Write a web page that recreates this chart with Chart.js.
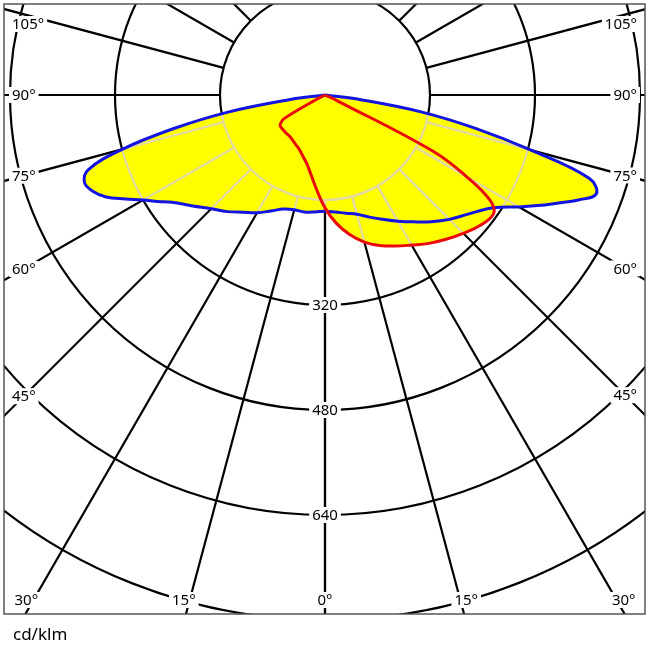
<!DOCTYPE html>
<html>
<head>
<meta charset="utf-8">
<style>
  body { margin: 0; background: #fff; }
  #wrap { position: relative; width: 650px; height: 650px; }
  #unit { position: absolute; left: 13px; top: 625px; font: 17px "Noto Sans", sans-serif; line-height: 17px; color: #000; }
</style>
<script src="https://cdn.jsdelivr.net/npm/chart.js@4.4.0/dist/chart.umd.min.js"></script>
</head>
<body>
<div id="wrap">
  <canvas id="polar" width="650" height="650"></canvas>
  <div id="unit">cd/klm</div>
</div>
<script>
// gamma angles (deg) of the measured intensities
const gammas = [0, 5, 10, 15, 20, 25, 30, 35, 40, 45, 50, 55, 57.5, 60, 62.5, 65, 67.5, 70, 72.5, 75, 77.5, 80, 82.5, 85, 90];
// C0 / C180 plane, cd/klm (blue)
const c0   = [177, 179, 183, 188, 198, 209, 222, 236, 252, 268, 283, 302, 318, 341, 365, 390, 418, 440, 422, 325, 235, 150, 55, 0, 0];
const c180 = [177, 179, 181, 181, 185, 195, 207, 218, 232, 245, 263, 285, 302, 320, 343, 368, 383, 390, 378, 320, 236, 150, 55, 0, 0];
// C90 / C270 plane, cd/klm (red)
const c90  = [172, 196, 216, 232, 244, 254, 264, 276, 287, 298, 309, 314, 298, 250, 185, 20, 0, 0, 0, 0, 0, 0, 0, 0, 0];
const c270 = [172, 145, 123, 108, 99, 92, 88, 85, 83, 83, 83, 83, 80, 72, 15, 0, 0, 0, 0, 0, 0, 0, 0, 0, 0];

// grid
const rings = [160, 320, 480, 640, 800, 960];
const ringLabels = [320, 480, 640];
const spokeStep = 15;
const sideLabels = [45, 60, 75, 90, 105];
const bottomLabels = [0, 15, 30];

// geometry (pixels)
const FRAME = { left: 4, top: 4, right: 645, bottom: 614 };
const CENTER = { x: 325, y: 95 };
const K = 105 / 160; // px per cd/klm

function toXY(g, v, side) {
  const a = g * Math.PI / 180;
  return { x: side * v * Math.sin(a), y: -v * Math.cos(a) };
}

// left half runs 90 -> 0, right half 0 -> 90
function curve(left, right) {
  const pts = [];
  for (let i = gammas.length - 1; i >= 0; i--) pts.push(toXY(gammas[i], left[i], -1));
  for (let i = 1; i < gammas.length; i++) pts.push(toXY(gammas[i], right[i], 1));
  return pts;
}

function drawGrid(chart, color) {
  const { ctx, chartArea: a, scales: { x, y } } = chart;
  const cx = x.getPixelForValue(0), cy = y.getPixelForValue(0);
  const k = x.getPixelForValue(1) - cx;
  ctx.save();
  ctx.beginPath();
  ctx.rect(a.left, a.top, a.right - a.left, a.bottom - a.top);
  ctx.clip();
  ctx.strokeStyle = color;
  ctx.lineWidth = 2.2;
  rings.forEach(r => {
    ctx.beginPath();
    ctx.arc(cx, cy, r * k, 0, 2 * Math.PI);
    ctx.stroke();
  });
  for (let g = 0; g <= 180; g += spokeStep) {
    [-1, 1].forEach(side => {
      const p0 = toXY(g, rings[0], side);
      const p1 = toXY(g, 2000, side);
      ctx.beginPath();
      ctx.moveTo(x.getPixelForValue(p0.x), y.getPixelForValue(p0.y));
      ctx.lineTo(x.getPixelForValue(p1.x), y.getPixelForValue(p1.y));
      ctx.stroke();
    });
  }
  ctx.restore();
}

function tag(ctx, text, xc, yc) {
  const w = ctx.measureText(text).width;
  ctx.fillStyle = '#fff';
  ctx.fillRect(xc - w / 2 - 3, yc - 8, w + 6, 16);
  ctx.fillStyle = '#000';
  ctx.fillText(text, xc - w / 2, yc + 1);
}

const polarGrid = {
  id: 'polarGrid',
  beforeDraw(chart) {
    drawGrid(chart, '#000');
  },
  beforeDatasetsDraw(chart) {
    // grid seen through the yellow areas is drawn light
    const ctx = chart.ctx;
    chart.data.datasets.forEach((ds, i) => {
      const meta = chart.getDatasetMeta(i);
      ctx.save();
      ctx.beginPath();
      if (meta.dataset && typeof meta.dataset.path === 'function') {
        meta.dataset.path(ctx);
      } else {
        meta.data.forEach((p, j) => j ? ctx.lineTo(p.x, p.y) : ctx.moveTo(p.x, p.y));
      }
      ctx.closePath();
      ctx.clip();
      drawGrid(chart, '#e2daa0');
      ctx.restore();
    });
  },
  afterDatasetsDraw(chart) {
    const { ctx, chartArea: a, scales: { x, y } } = chart;
    const cx = x.getPixelForValue(0), cy = y.getPixelForValue(0);
    const k = x.getPixelForValue(1) - cx;
    ctx.save();
    ctx.font = '15px "Noto Sans", sans-serif';
    ctx.textAlign = 'left';
    ctx.textBaseline = 'middle';
    sideLabels.forEach(g => {
      const t = g + '°';
      const w = ctx.measureText(t).width;
      const tn = Math.tan(g * Math.PI / 180);
      const xl = a.left + 8 + w / 2;
      const yl = Math.max(cy + (cx - xl) / tn, a.top + 20);
      tag(ctx, t, xl, yl);
      const xr = a.right - 8 - w / 2;
      const yr = Math.max(cy + (xr - cx) / tn, a.top + 20);
      tag(ctx, t, xr, yr);
    });
    bottomLabels.forEach(g => {
      const t = g + '°';
      const w = ctx.measureText(t).width;
      const lim = (a.right - a.left) / 2 - 10 - w / 2;
      const d = Math.min((a.bottom - cy + 8) * Math.tan(g * Math.PI / 180), lim);
      const yb = a.bottom - 14;
      tag(ctx, t, cx - d, yb);
      if (g) tag(ctx, t, cx + d, yb);
    });
    ringLabels.forEach(r => tag(ctx, String(r), cx, cy + r * k));
    ctx.strokeStyle = '#555';
    ctx.lineWidth = 1.5;
    ctx.strokeRect(a.left, a.top, a.right - a.left, a.bottom - a.top);
    ctx.restore();
  }
};

new Chart(document.getElementById('polar'), {
  type: 'scatter',
  data: {
    datasets: [
      {
        label: 'C90 - C270',
        data: curve(c270, c90),
        showLine: true,
        borderColor: 'rgb(235, 10, 10)',
        backgroundColor: '#ffff00',
        borderWidth: 3,
        pointRadius: 0,
        tension: 0.4,
        fill: 'shape'
      },
      {
        label: 'C0 - C180',
        data: curve(c180, c0),
        showLine: true,
        borderColor: 'rgb(20, 20, 225)',
        backgroundColor: '#ffff00',
        borderWidth: 3,
        pointRadius: 0,
        tension: 0.4,
        fill: 'shape'
      }
    ]
  },
  options: {
    responsive: false,
    animation: false,
    events: [],
    layout: {
      padding: { left: FRAME.left, top: FRAME.top, right: 650 - FRAME.right, bottom: 650 - FRAME.bottom }
    },
    scales: {
      x: { type: 'linear', display: false, min: -(CENTER.x - FRAME.left) / K, max: (FRAME.right - CENTER.x) / K },
      y: { type: 'linear', display: false, min: -(FRAME.bottom - CENTER.y) / K, max: (CENTER.y - FRAME.top) / K }
    },
    plugins: {
      legend: { display: false },
      tooltip: { enabled: false },
      filler: { drawTime: 'beforeDatasetsDraw' }
    }
  },
  plugins: [polarGrid]
});
</script>
</body>
</html>
